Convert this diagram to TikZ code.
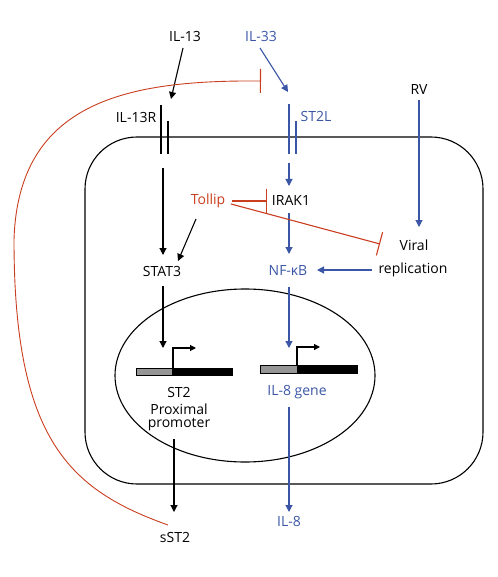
\documentclass[tikz,border=0pt]{standalone}
\usepackage{fontspec}
\setmainfont{Open Sans}
\usetikzlibrary{arrows.meta}
\definecolor{myblue}{RGB}{59,86,166}
\definecolor{myred}{RGB}{200,62,30}
\definecolor{mygrey}{RGB}{150,150,150}
\begin{document}
\begin{tikzpicture}[x=1pt,y=-1pt,
  lbl/.style={inner sep=0pt,font=\fontsize{14}{16}\selectfont,align=center},
  blbl/.style={lbl,text=myblue},
  rlbl/.style={lbl,text=myred},
  ln/.style={line width=1.1pt},
  arr/.style={ln,-{Triangle[length=7pt,width=7pt]}},
  barr/.style={arr,myblue},
  inh/.style={ln,myred,-{Bar[width=24pt,line width=1.1pt]}},
  smallarr/.style={ln,-{Triangle[length=6pt,width=6pt]}}
]
\useasboundingbox (0,0) rectangle (497,577);
% cell and nucleus
\draw[ln] [rounded corners=52pt] (85,137) rectangle (483,484);
\draw[ln] (245,375.5) ellipse [x radius=130, y radius=86.5];
% labels
\node[lbl] (il13) at (185,37) {IL-13};
\node[blbl] (il33) at (261,37) {IL-33};
\node[lbl] (rv) at (419,90) {RV};
\node[lbl] (il13r) at (136,118) {IL-13R};
\node[blbl] (st2l) at (316,117) {ST2L};
\node[rlbl] (tollip) at (208,201) {Tollip};
\node[lbl] (irak) at (291,200) {IRAK1};
\node[lbl] (stat) at (162,271) {STAT3};
\node[blbl] (nfkb) at (288,271) {NF-\char"03BA B};
\node[lbl] (viral) at (414,245) {Viral};
\node[lbl] (repl) at (413,270) {replication};
\node[lbl] (st2) at (179,392) {ST2};
\node[lbl] (prox) at (179,409) {Proximal};
\node[lbl] (prom) at (179,425) {promoter};
\node[blbl] (il8g) at (297,392) {IL-8 gene};
\node[lbl] (sst2) at (175,537) {sST2};
\node[blbl] (il8) at (289,521) {IL-8};
% coordinates
\coordinate (a1) at (183,48); \coordinate (a2) at (171,99);
\coordinate (b1) at (260,48); \coordinate (b2) at (288,92);
\coordinate (r1a) at (161,105); \coordinate (r1b) at (161,154);
\coordinate (r2a) at (168,121); \coordinate (r2b) at (168,154);
\coordinate (s1a) at (289,104); \coordinate (s1b) at (289,154);
\coordinate (s2a) at (296,121); \coordinate (s2b) at (296,154);
\coordinate (c1) at (163,168); \coordinate (c2) at (163,255);
\coordinate (d1) at (289,163); \coordinate (d2) at (289,186);
\coordinate (e1) at (289,213); \coordinate (e2) at (289,254);
\coordinate (f1) at (419,100); \coordinate (f2) at (419,227);
\coordinate (g1) at (196,219); \coordinate (g2) at (178,261);
\coordinate (h1) at (232,201); \coordinate (h2) at (267,201);
\coordinate (i1) at (231,204); \coordinate (i2) at (380,244);
\coordinate (j1) at (372,270); \coordinate (j2) at (317,270);
\coordinate (k1) at (163,286); \coordinate (k2) at (163,348);
\coordinate (l1) at (289,287); \coordinate (l2) at (289,348);
\coordinate (m1) at (174,439); \coordinate (m2) at (174,512);
\coordinate (n1) at (289,407); \coordinate (n2) at (289,512);
\coordinate (p1) at (168,525); \coordinate (p2) at (261,81);
\coordinate (pm) at (14,240);
% connectors
\draw[arr] (a1) -- (a2);
\draw[barr] (b1) -- (b2);
\draw[ln] (r1a) -- (r1b);
\draw[ln] (r2a) -- (r2b);
\draw[ln,myblue] (s1a) -- (s1b);
\draw[ln,myblue] (s2a) -- (s2b);
\draw[arr] (c1) -- (c2);
\draw[barr] (d1) -- (d2);
\draw[barr] (e1) -- (e2);
\draw[barr] (f1) -- (f2);
\draw[arr] (g1) -- (g2);
\draw[inh] (h1) -- (h2);
\draw[inh] (i1) -- (i2);
\draw[barr] (j1) -- (j2);
\draw[arr] (k1) -- (k2);
\draw[barr] (l1) -- (l2);
\draw[arr] (m1) -- (m2);
\draw[barr] (n1) -- (n2);
\draw[inh,line width=0.9pt] (p1) .. controls (70,490) and (14,440) .. (pm)
  .. controls (18,100) and (130,80) .. (p2);
% genes
\draw[line width=0.6pt,fill=mygrey] (136,368) rectangle (172,375);
\draw[line width=0.6pt,fill=black] (172,368) rectangle (232,375);
\coordinate (t1) at (173,368); \coordinate (t2) at (196,348);
\draw[smallarr] (t1) |- (t2);
\draw[line width=0.6pt,fill=mygrey] (260,365) rectangle (297,373);
\draw[line width=0.6pt,fill=black] (297,365) rectangle (357,373);
\coordinate (u1) at (297,365); \coordinate (u2) at (320,347);
\draw[smallarr] (u1) |- (u2);
\end{tikzpicture}
\end{document}
